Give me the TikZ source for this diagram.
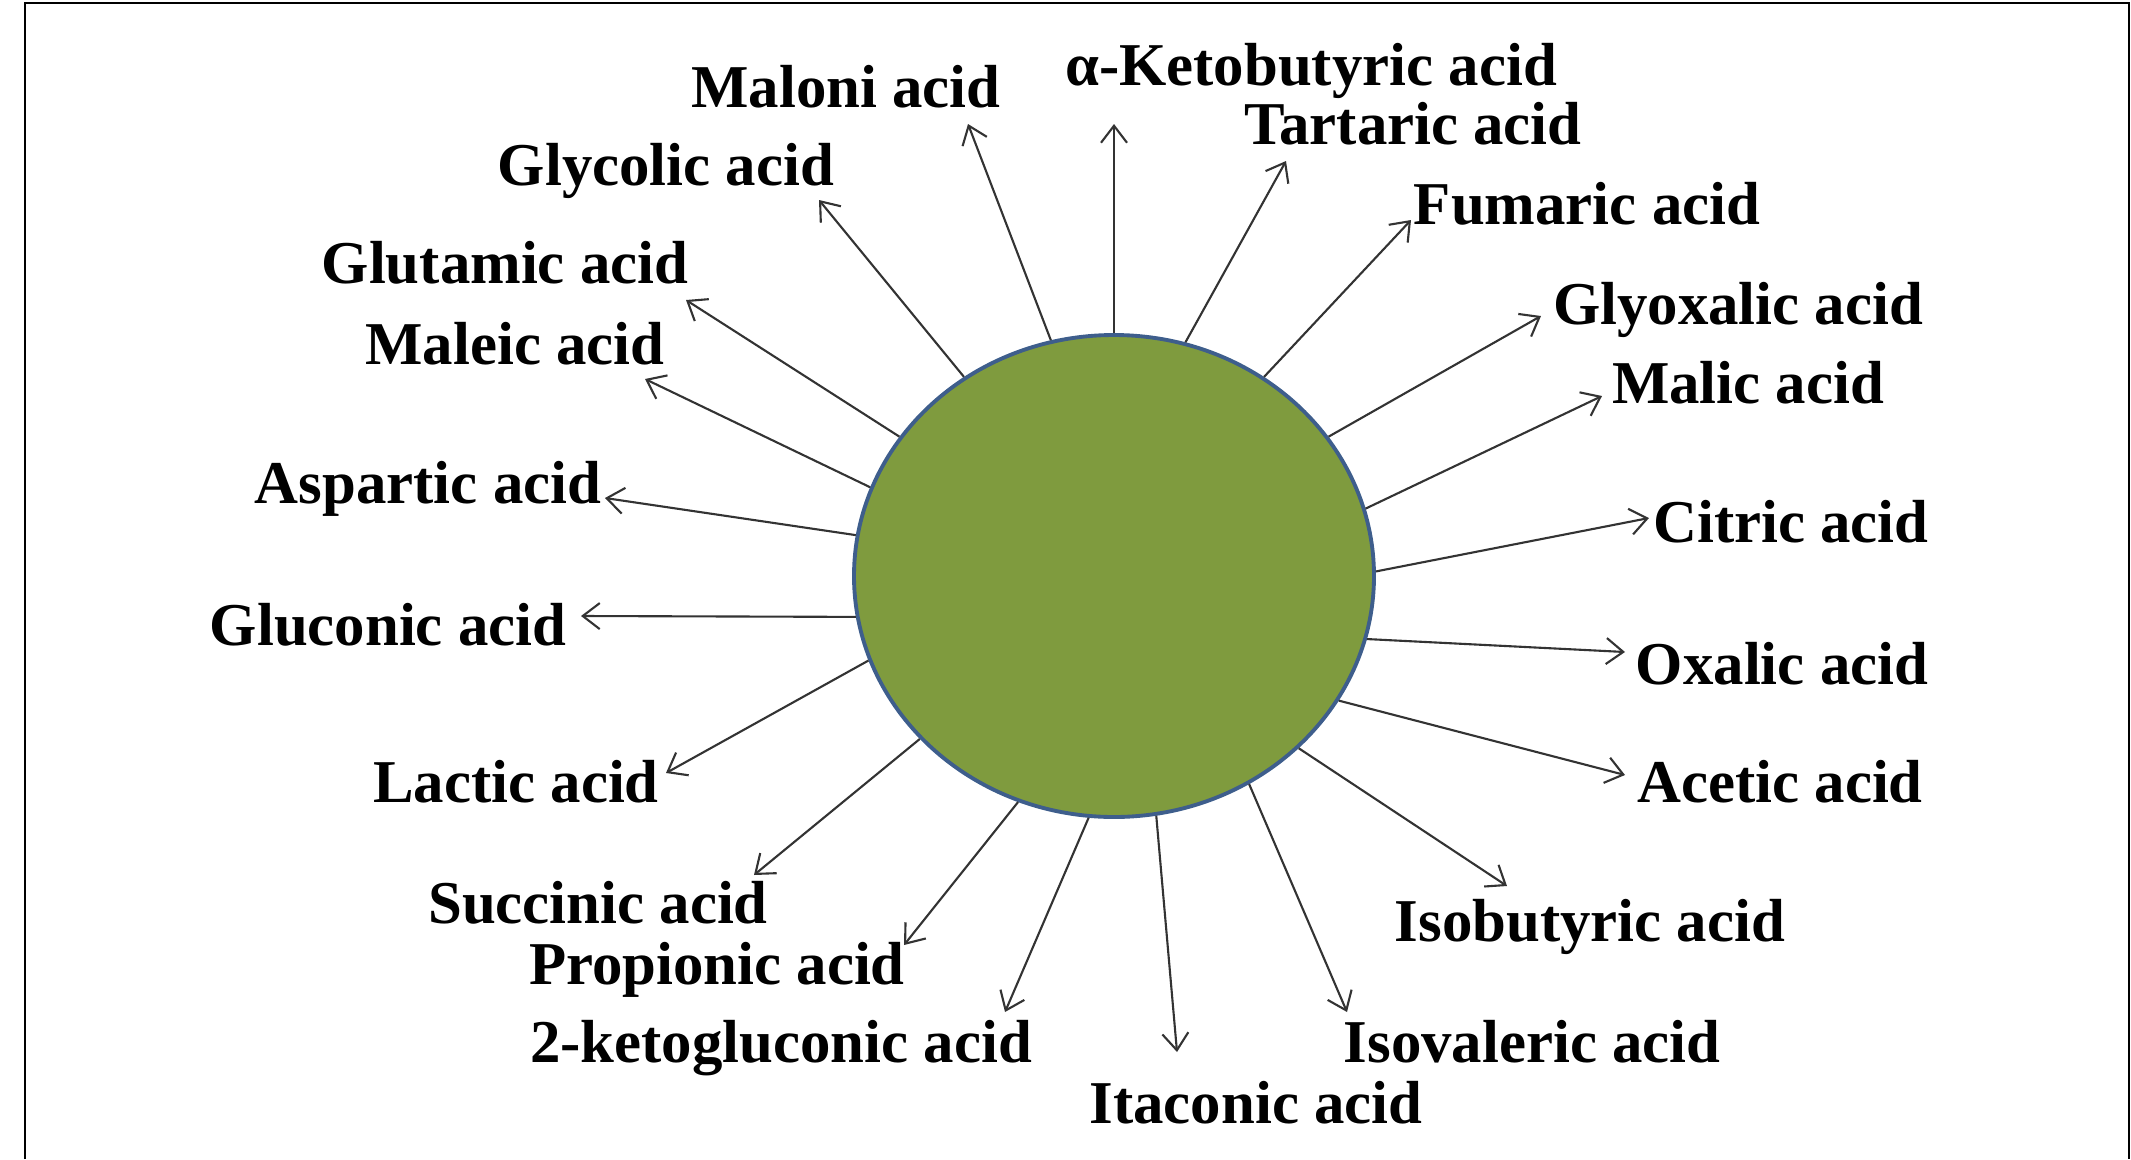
\documentclass[tikz,border=0pt]{standalone}
\usepackage{fontspec}
\setmainfont{Liberation Serif}
\usepackage{tikz}
\usetikzlibrary{arrows.meta,shapes.geometric}

\definecolor{cellgreen}{HTML}{7F9B3E}
\definecolor{cellblue}{HTML}{3E5E8C}
\definecolor{arrowgray}{HTML}{333333}

\begin{document}
\begin{tikzpicture}[x=0.1mm,y=-0.1mm,
    >={Straight Barb[length=1.7mm,width=2.6mm]},
    cell/.style={ellipse,draw=cellblue,line width=1.1pt,fill=cellgreen,
      minimum width=52mm,minimum height=48.2mm,inner sep=0pt},
    acid/.style={anchor=base,inner sep=0pt,
      font=\bfseries\fontsize{17.3}{20}\selectfont},
    ray/.style={->,color=arrowgray,line width=0.6pt}]
    \useasboundingbox (0,0) rectangle (2131,1159);
    \draw[line width=0.35pt] (25,1159) -- (25,3) -- (2129,3) -- (2129,1159);

    \node[cell] (cell) at (1114,576) {};

    \node[acid] (maloni)     at (846,107)   {Maloni acid};
    \node[acid] (keto)       at (1311,85)   {α-Ketobutyric acid};
    \node[acid] (tartaric)   at (1413,144)  {Tartaric acid};
    \node[acid] (fumaric)    at (1587,224)  {Fumaric acid};
    \node[acid] (glyoxalic)  at (1738,324)  {Glyoxalic acid};
    \node[acid] (malic)      at (1748,403)  {Malic acid};
    \node[acid] (citric)     at (1791,542)  {Citric acid};
    \node[acid] (oxalic)     at (1782,684)  {Oxalic acid};
    \node[acid] (acetic)     at (1780,802)  {Acetic acid};
    \node[acid] (isobutyric) at (1590,941)  {Isobutyric acid};
    \node[acid] (isovaleric) at (1532,1062) {Isovaleric acid};
    \node[acid] (itaconic)   at (1256,1123) {Itaconic acid};
    \node[acid] (ketoglu)    at (781,1062)  {2-ketogluconic acid};
    \node[acid] (propionic)  at (717,984)   {Propionic acid};
    \node[acid] (succinic)   at (598,923)   {Succinic acid};
    \node[acid] (lactic)     at (516,802)   {Lactic acid};
    \node[acid] (gluconic)   at (388,645)   {Gluconic acid};
    \node[acid] (aspartic)   at (428,503)   {Aspartic acid};
    \node[acid] (maleic)     at (515,364)   {Maleic acid};
    \node[acid] (glutamic)   at (505,283)   {Glutamic acid};
    \node[acid] (glycolic)   at (666,185)   {Glycolic acid};

    % arrow tips next to the labels
    \coordinate (t_maloni)     at (968,124);
    \coordinate (t_keto)       at (1114,124);
    \coordinate (t_tartaric)   at (1286,161);
    \coordinate (t_fumaric)    at (1411,220);
    \coordinate (t_glyoxalic)  at (1541,316);
    \coordinate (t_malic)      at (1602,396);
    \coordinate (t_citric)     at (1649,518);
    \coordinate (t_oxalic)     at (1625,652);
    \coordinate (t_acetic)     at (1625,775);
    \coordinate (t_isobutyric) at (1507,886);
    \coordinate (t_isovaleric) at (1347,1012);
    \coordinate (t_itaconic)   at (1177,1052);
    \coordinate (t_ketoglu)    at (1005,1012);
    \coordinate (t_propionic)  at (904,945);
    \coordinate (t_succinic)   at (754,875);
    \coordinate (t_lactic)     at (666,773);
    \coordinate (t_gluconic)   at (581,616);
    \coordinate (t_aspartic)   at (605,498);
    \coordinate (t_maleic)     at (645,379);
    \coordinate (t_glutamic)   at (686,300);
    \coordinate (t_glycolic)   at (819,200);

    \path[ray]
    (cell.105)  edge (t_maloni)
    (cell.90)   edge (t_keto)
    (cell.73)   edge (t_tartaric)
    (cell.53)   edge (t_fumaric)
    (cell.33)   edge (t_glyoxalic)
    (cell.15)   edge (t_malic)
    (cell.1)    edge (t_citric)
    (cell.-14)  edge (t_oxalic)
    (cell.-29)  edge (t_acetic)
    (cell.-43)  edge (t_isobutyric)
    (cell.-57)  edge (t_isovaleric)
    (cell.-80)  edge (t_itaconic)
    (cell.-96)  edge (t_ketoglu)
    (cell.-113) edge (t_propionic)
    (cell.-140) edge (t_succinic)
    (cell.-161) edge (t_lactic)
    (cell.-171) edge (t_gluconic)
    (cell.171)  edge (t_aspartic)
    (cell.160)  edge (t_maleic)
    (cell.147)  edge (t_glutamic)
    (cell.127)  edge (t_glycolic);
\end{tikzpicture}
\end{document}
